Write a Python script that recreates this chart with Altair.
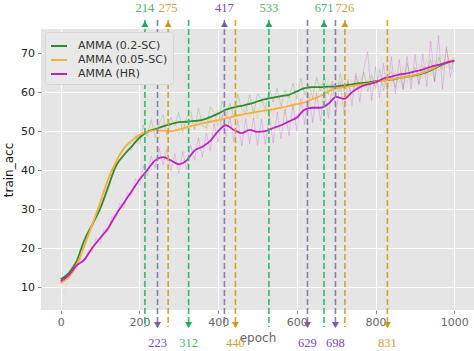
import altair as alt
import pandas as pd

# ---------------- data ----------------
series_names = ["AMMA (0.2-SC)", "AMMA (0.05-SC)", "AMMA (HR)"]
series_colors = ["#2E8B2E", "#F9AE3A", "#C21FC2"]

smooth_epochs = list(range(0, 1001, 20))
smooth_green = [12, 13.5, 16.5, 22, 26, 30, 35.5, 41, 43.8, 46, 48.3, 49.8, 50.5, 51.2, 51.8, 52.3,
                52.4, 52.6, 52.9, 53.6, 54.5, 55.5, 56.1, 56.5, 57, 57.6, 58.2, 58.6, 59, 59.3, 60.2,
                61, 61.3, 61.3, 61.4, 61.5, 61.7, 62, 62.3, 62.5, 62.8, 63, 63.2, 63.6, 64, 64.3, 64.8,
                65.6, 66.6, 67.5, 68]
smooth_orange = [11, 12.5, 15.5, 20.5, 26, 31.5, 37.5, 42, 45.5, 47.5, 49, 49.8, 50.2, 50.1, 50, 50.4,
                 51, 51.5, 52, 52.4, 52.8, 53.3, 53.8, 54.2, 54.6, 55, 55.3, 55.6, 56, 56.5, 56.9, 57.4,
                 58.2, 59, 60.2, 61, 61.3, 61.6, 61.9, 62.2, 62.6, 63, 63.3, 63.6, 64, 64.4, 65, 65.8,
                 66.8, 67.7, 68.3]
smooth_hr = [11.5, 13, 15.5, 17, 20, 22.5, 25, 28.5, 31.5, 34.5, 37.5, 40, 42.5, 43.3, 42.5, 41.5, 42.5,
             45, 46, 47.5, 50, 51.5, 50.3, 49.5, 50.3, 49.8, 50, 50.8, 51.5, 52.5, 53.5, 55.5, 56, 56,
             57, 58.8, 58.3, 60, 61.3, 62, 62.5, 63.5, 64, 64.5, 64.8, 65.3, 65.8, 66.5, 67, 67.6, 68]

raw_epochs = list(range(0, 1001, 10))
raw_green = [11.5, 13.0, 13.2, 15.6, 16.1, 18.9, 21.0, 23.9, 25.4, 27.6, 30.4, 32.9, 35.1, 38.5, 40.3,
             42.8, 43.6, 45.4, 45.2, 48.7, 46.6, 51.6, 48.7, 53.0, 48.4, 51.8, 54.2, 49.0, 53.5, 51.4,
             54.8, 49.6, 53.5, 55.0, 50.4, 55.9, 51.4, 50.8, 56.2, 54.7, 51.2, 57.8, 53.7, 57.2, 53.4,
             59.5, 55.6, 54.7, 59.4, 54.3, 59.5, 58.3, 55.6, 61.2, 57.4, 61.0, 56.4, 60.6, 58.5, 62.3,
             58.2, 63.6, 59.3, 61.9, 58.6, 63.8, 60.3, 64.1, 59.4, 62.8, 59.1, 64.8, 60.3, 62.6, 59.2,
             64.1, 61.8, 65.1, 60.2, 64.2, 60.9, 65.9, 60.4, 64.0, 65.3, 61.2, 64.8, 60.9, 67.4, 63.0,
             66.4, 62.1, 66.6, 64.5, 68.3, 62.9, 69.0, 65.8, 71.0, 65.9, 68.5]
raw_orange = [9.0, 8.0, 13.4, 13.5, 15.0, 18.4, 20.2, 23.2, 25.6, 29.0, 31.4, 34.9, 37.8, 40.6, 42.0,
              44.4, 45.0, 47.3, 46.7, 49.5, 47.9, 51.2, 48.6, 52.3, 50.9, 48.1, 52.5, 48.5, 51.7, 52.7,
              48.9, 52.6, 49.8, 53.9, 50.4, 53.3, 54.1, 50.1, 53.6, 51.2, 55.4, 50.9, 54.9, 51.9, 56.0,
              52.7, 52.3, 56.8, 53.6, 56.1, 53.1, 57.9, 54.1, 57.2, 53.7, 58.6, 55.2, 54.6, 59.1, 55.6,
              59.5, 56.2, 60.3, 56.8, 61.4, 57.3, 62.0, 58.1, 63.4, 59.2, 63.2, 60.2, 64.5, 59.5, 63.2,
              60.7, 64.3, 60.4, 63.0, 64.9, 61.1, 64.4, 61.5, 65.7, 61.5, 65.5, 62.4, 66.5, 62.3, 66.1,
              63.3, 67.2, 63.4, 68.3, 64.3, 68.2, 65.4, 70.1, 66.3, 70.8, 68.0]
raw_hr = [10.8, 12.6, 12.4, 15.2, 14.6, 17.4, 16.3, 19.3, 19.0, 22.5, 21.4, 24.8, 24.2, 28.1, 27.4,
          31.5, 30.2, 34.2, 33.5, 37.8, 36.1, 41.1, 38.5, 43.6, 40.6, 45.7, 41.4, 45.4, 39.8, 44.2,
          39.1, 44.8, 40.2, 46.5, 42.5, 48.3, 43.4, 49.5, 45.0, 51.9, 47.2, 54.2, 48.6, 53.6, 47.3,
          52.7, 46.2, 53.2, 46.8, 53.4, 46.3, 53.1, 46.6, 54.2, 46.9, 54.9, 48.0, 55.7, 48.8, 56.8,
          50.0, 58.4, 51.7, 59.7, 52.2, 60.0, 52.6, 60.6, 53.3, 62.1, 55.0, 62.7, 54.4, 63.3, 56.5,
          65.0, 57.4, 66.1, 70.4, 57.8, 66.5, 58.6, 67.4, 59.7, 69.1, 59.5, 68.4, 60.6, 69.2, 60.8,
          69.7, 61.9, 69.9, 61.4, 73.1, 62.6, 74.6, 60.7, 71.7, 63.8, 69.0]

# annotations (label text, x position in epochs, group)
top_labels = ["214", "275", "417", "533", "671", "726"]
top_pos = [214, 273, 416, 529, 669, 722]
top_group = ["g", "y", "p", "g", "g", "y"]
bot_labels = ["223", "312", "440", "629", "698", "831"]
bot_pos = [246, 325, 444, 627, 698, 830]
bot_group = ["p", "g", "y", "p", "p", "y"]

line_col = {"g": "#35B86C", "y": "#D2A42E", "p": "#8A7EAA"}
arrow_col = {"g": "#1FA860", "y": "#C99A1E", "p": "#7A5CA6"}
text_col = {"g": "#4DB26A", "y": "#C9A040", "p": "#7B4BAA"}

# ---------------- tables ----------------
smooth_df = pd.concat([
    pd.DataFrame({"epoch": smooth_epochs, "acc": vals, "series": name})
    for name, vals in zip(series_names, [smooth_green, smooth_orange, smooth_hr])
])
raw_df = pd.concat([
    pd.DataFrame({"epoch": raw_epochs, "acc": vals, "series": name})
    for name, vals in zip(series_names, [raw_green, raw_orange, raw_hr])
])
top_df = pd.DataFrame({"pos": top_pos, "label": top_labels,
                       "lc": [line_col[g] for g in top_group],
                       "ac": [arrow_col[g] for g in top_group],
                       "tc": [text_col[g] for g in top_group]})
bot_df = pd.DataFrame({"pos": bot_pos, "label": bot_labels,
                       "lc": [line_col[g] for g in bot_group],
                       "ac": [arrow_col[g] for g in bot_group],
                       "tc": [text_col[g] for g in bot_group]})
ann_df = pd.concat([top_df, bot_df])

xscale = alt.Scale(domain=[-50, 1050], nice=False, zero=False)
yscale = alt.Scale(domain=[4.1, 76.2], nice=False, zero=False)
cscale = alt.Scale(domain=series_names, range=series_colors)

x_enc = alt.X("epoch:Q", scale=xscale,
              axis=alt.Axis(values=[0, 200, 400, 600, 800, 1000], title="epoch", format="d",
                            labelColor="#666666", titleColor="#666666"))
y_enc = alt.Y("acc:Q", scale=yscale,
              axis=alt.Axis(values=[10, 20, 30, 40, 50, 60, 70], title="train_acc",
                            labelColor="#222222", titleColor="#111111"))

raw = alt.Chart(raw_df).mark_line(strokeWidth=1, opacity=0.22).encode(
    x=x_enc, y=y_enc,
    color=alt.Color("series:N", scale=cscale, legend=None),
    detail="series:N",
)

smooth = alt.Chart(smooth_df).mark_line(strokeWidth=1.8, interpolate="monotone").encode(
    x=x_enc, y=y_enc,
    color=alt.Color("series:N", scale=cscale, sort=series_names,
                    legend=alt.Legend(title=None, orient="none", legendX=4, legendY=3,
                                      symbolType="stroke", symbolSize=256, symbolStrokeWidth=2,
                                      labelFontSize=11, labelColor="#333333",
                                      labelFont="DejaVu Sans", rowPadding=0,
                                      padding=5, fillColor="#E9E9E9", strokeColor="#D6D6D6",
                                      cornerRadius=3, labelOffset=10)),
)

rules = alt.Chart(ann_df).mark_rule(strokeWidth=1.6, strokeDash=[6, 3], clip=False).encode(
    x=alt.X("pos:Q", scale=xscale),
    y=alt.value(-9), y2=alt.value(298),
    color=alt.Color("lc:N", scale=None),
)

up_heads = alt.Chart(top_df).mark_point(shape="triangle-up", filled=True, size=50,
                                        opacity=1, clip=False).encode(
    x=alt.X("pos:Q", scale=xscale), y=alt.value(-5),
    color=alt.Color("ac:N", scale=None),
)
down_heads = alt.Chart(bot_df).mark_point(shape="triangle-down", filled=True, size=50,
                                          opacity=1, clip=False).encode(
    x=alt.X("pos:Q", scale=xscale), y=alt.value(296),
    color=alt.Color("ac:N", scale=None),
)

top_text = alt.Chart(top_df).mark_text(font="Liberation Serif", fontSize=12.5,
                                       baseline="middle", clip=False).encode(
    x=alt.X("pos:Q", scale=xscale), y=alt.value(-21),
    text="label:N", color=alt.Color("tc:N", scale=None),
)
bot_text = alt.Chart(bot_df).mark_text(font="Liberation Serif", fontSize=12.5,
                                       baseline="middle", clip=False).encode(
    x=alt.X("pos:Q", scale=xscale), y=alt.value(314),
    text="label:N", color=alt.Color("tc:N", scale=None),
)

chart = alt.layer(raw, smooth, rules, up_heads, down_heads, top_text, bot_text).properties(
    width=433, height=281,
    autosize=alt.AutoSizeParams(type="none"),
    padding={"left": 41, "top": 29, "right": 0, "bottom": 41},
).resolve_scale(color="independent").configure_view(
    fill="#E5E5E5", stroke=None
).configure_axis(
    grid=True, gridColor="#FFFFFF", gridWidth=1, domain=False,
    tickColor="#666666", tickSize=3.5, tickWidth=0.8,
    labelFont="DejaVu Sans", labelFontSize=11, labelPadding=3,
    titleFont="DejaVu Sans", titleFontSize=12, titleFontWeight="normal",
).configure_axisX(titlePadding=5).configure_axisY(titlePadding=5)

chart.save("out.html", embed_options={"renderer": "svg", "actions": False})
